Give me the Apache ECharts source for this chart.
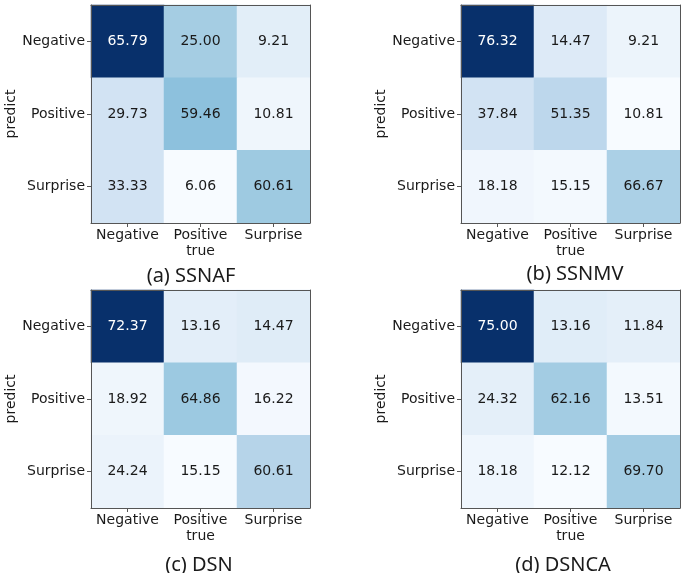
<!DOCTYPE html>
<html><head><meta charset="utf-8">
<script src="https://cdn.jsdelivr.net/npm/echarts@6/dist/echarts.min.js"></script>
<style>html,body{margin:0;padding:0;background:#fff}#c{width:685px;height:573px}</style>
</head><body><div id="c"></div>
<script>
// Categories
const trueLabels = ['Negative', 'Positive', 'Surprise'];
const predLabels = ['Negative', 'Positive', 'Surprise'];
// Sample count per row (used for colour, as in the original)
const rowTotals = [76, 37, 33];
// Percentages, rows = predict, columns = true
const ssnaf = [[65.79, 25.00, 9.21], [29.73, 59.46, 10.81], [33.33, 6.06, 60.61]];
const ssnmv = [[76.32, 14.47, 9.21], [37.84, 51.35, 10.81], [18.18, 15.15, 66.67]];
const dsn   = [[72.37, 13.16, 14.47], [18.92, 64.86, 16.22], [24.24, 15.15, 60.61]];
const dsnca = [[75.00, 13.16, 11.84], [24.32, 62.16, 13.51], [18.18, 12.12, 69.70]];
const titles = ['(a) SSNAF', '(b) SSNMV', '(c) DSN', '(d) DSNCA'];
const matrices = [ssnaf, ssnmv, dsn, dsnca];

const blues = ['#f7fbff','#deebf7','#c6dbef','#9ecae1','#6baed6','#4292c6','#2171b5','#08519c','#08306b'];
const grids = [
  {left: 91, top: 5, width: 219, height: 218},
  {left: 461, top: 5, width: 219, height: 218},
  {left: 91, top: 290, width: 219, height: 218},
  {left: 461, top: 290, width: 219, height: 218}
];
const titlePos = [[186, 261], [570, 259], [194, 550], [558, 550]];
const FONT = 'DejaVu Sans';
const FS = 14;
const option = {animation: false, backgroundColor: '#fff', grid: [], xAxis: [], yAxis: [], series: [], visualMap: [], title: []};
matrices.forEach((m, gi) => {
  option.grid.push(grids[gi]);
  const data = [];
  let mn = Infinity, mx = -Infinity;
  m.forEach((row, r) => row.forEach((v, c) => {
    const cnt = Math.round(v * rowTotals[r] / 100);
    mn = Math.min(mn, cnt); mx = Math.max(mx, cnt);
  }));
  const thr = (mn + mx) / 2;
  m.forEach((row, r) => row.forEach((v, c) => {
    const cnt = Math.round(v * rowTotals[r] / 100);
    data.push({value: [c, r, v, cnt], label: {color: cnt > thr ? '#ffffff' : '#1a1a1a'}});
  }));
  const axLine = {show: true, lineStyle: {color: '#555', width: 1}};
  option.xAxis.push({
    type: 'category', gridIndex: gi, data: trueLabels, position: 'bottom', z: 5,
    axisLine: axLine, axisTick: {show: true, alignWithLabel: true, length: 4, lineStyle: {color: '#555'}},
    axisLabel: {fontFamily: FONT, fontSize: FS, color: '#1a1a1a', margin: 5, interval: 0},
    name: 'true', nameLocation: 'middle', nameGap: 21,
    nameTextStyle: {fontFamily: FONT, fontSize: FS, color: '#1a1a1a'},
    splitLine: {show: false}
  });
  option.xAxis.push({
    type: 'category', gridIndex: gi, data: trueLabels, position: 'top', z: 5,
    axisLine: axLine, axisTick: {show: false}, axisLabel: {show: false}, splitLine: {show: false}
  });
  option.yAxis.push({
    type: 'category', gridIndex: gi, data: predLabels, inverse: true, position: 'left', z: 5,
    axisLine: axLine, axisTick: {show: true, alignWithLabel: true, length: 4, lineStyle: {color: '#555'}},
    axisLabel: {fontFamily: FONT, fontSize: FS, color: '#1a1a1a', margin: 6},
    name: 'predict', nameLocation: 'middle', nameGap: 71,
    nameTextStyle: {fontFamily: FONT, fontSize: FS, color: '#1a1a1a'},
    splitLine: {show: false}
  });
  option.yAxis.push({
    type: 'category', gridIndex: gi, data: predLabels, inverse: true, position: 'right', z: 5,
    axisLine: axLine, axisTick: {show: false}, axisLabel: {show: false}, splitLine: {show: false}
  });
  option.series.push({
    type: 'heatmap', xAxisIndex: gi * 2, yAxisIndex: gi * 2, data: data,
    label: {show: true, fontFamily: FONT, fontSize: FS,
      formatter: p => p.value[2].toFixed(2)},
    itemStyle: {borderWidth: 0},
    emphasis: {disabled: true}
  });
  option.visualMap.push({
    type: 'continuous', show: false, seriesIndex: gi, dimension: 3,
    min: mn, max: mx, inRange: {color: blues}
  });
  option.title.push({
    text: titles[gi], left: titlePos[gi][0], top: titlePos[gi][1], textAlign: 'center',
    textStyle: {fontFamily: 'Noto Sans', fontSize: 20, fontWeight: 'normal', color: '#1a1a1a'}
  });
});
const chart = echarts.init(document.getElementById('c'), null, {renderer: 'canvas'});
chart.setOption(option);
</script></body></html>
